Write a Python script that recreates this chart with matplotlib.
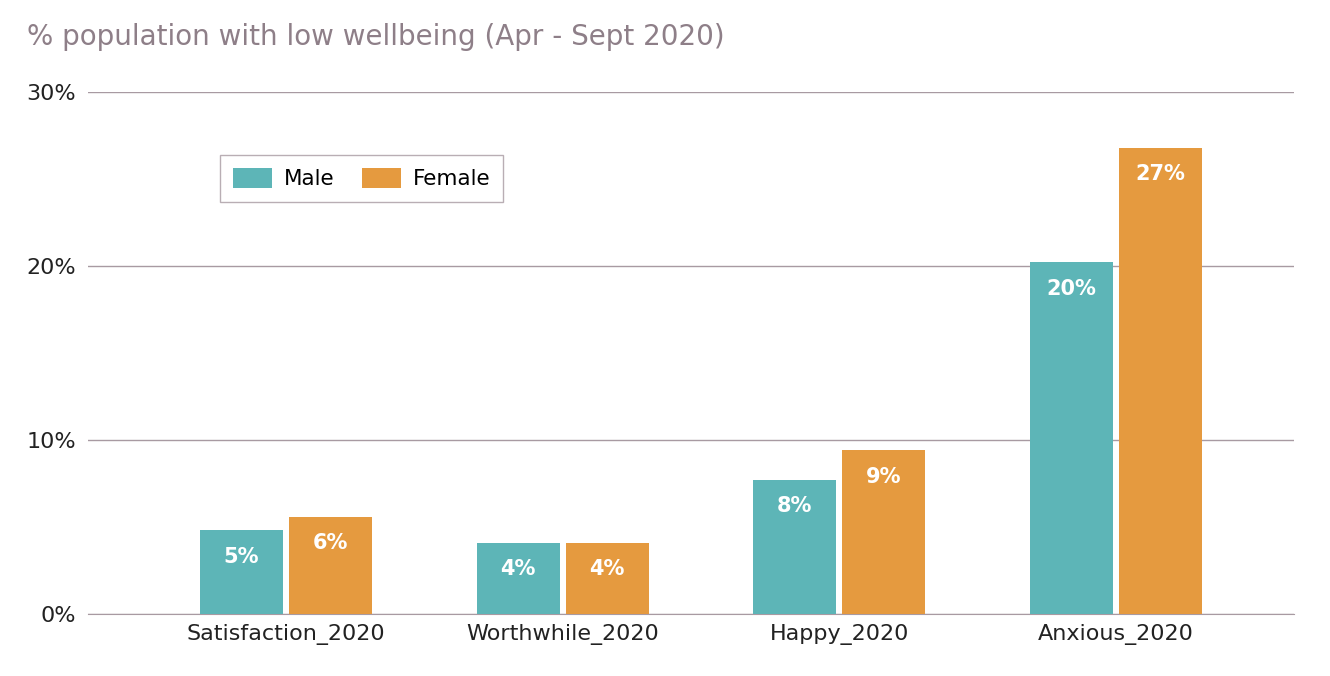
import matplotlib
matplotlib.use("Agg")
import matplotlib.pyplot as plt
import numpy as np

categories = ["Satisfaction_2020", "Worthwhile_2020", "Happy_2020", "Anxious_2020"]
male = [4.8, 4.1, 7.7, 20.2]
female = [5.6, 4.1, 9.4, 26.8]
male_labels = ["5%", "4%", "8%", "20%"]
female_labels = ["6%", "4%", "9%", "27%"]
yticks = [0, 10, 20, 30]
ytick_labels = ["0%", "10%", "20%", "30%"]

plt.rcParams['font.family'] = ['DejaVu Sans']

teal = "#5DB5B7"
orange = "#E59A3F"
grid_c = "#A89AA2"

fig = plt.figure(figsize=(13.3, 6.76), dpi=100)
ax = fig.add_axes([0.0662, 0.0917, 0.9068, 0.7723])

x = np.arange(len(categories))
w = 0.30
off = 0.161
b1 = ax.bar(x - off, male, w, color=teal, label="Male", zorder=3)
b2 = ax.bar(x + off, female, w, color=orange, label="Female", zorder=3)

for bars, labs in ((b1, male_labels), (b2, female_labels)):
    for r, t in zip(bars, labs):
        ax.annotate(t, (r.get_x() + r.get_width() / 2, r.get_height()),
                    xytext=(0, -19), textcoords="offset points", ha="center", va="center",
                    color="white", fontsize=15, fontweight="bold", zorder=4)

ax.set_xlim(-0.715, 3.643)
ax.set_ylim(0, 30)
ax.set_yticks(yticks)
ax.set_yticklabels(ytick_labels, fontsize=16, color="#222222")
ax.set_xticks(x)
ax.set_xticklabels(categories, fontsize=16, color="#222222")
ax.tick_params(axis="both", length=0)
ax.tick_params(axis="y", pad=8.5)
ax.tick_params(axis="x", pad=7)
ax.yaxis.grid(True, color=grid_c, linewidth=1)
ax.set_axisbelow(True)
for s in ("top", "right", "left"):
    ax.spines[s].set_visible(False)
ax.spines["bottom"].set_color(grid_c)

leg = ax.legend(loc="upper left", bbox_to_anchor=(0.1004, 0.9), ncol=2, fontsize=15.5,
                frameon=True, fancybox=False, edgecolor=grid_c, handlelength=1.8,
                handleheight=1.1, handletextpad=0.55, columnspacing=1.3, borderpad=0.6)
leg.get_frame().set_linewidth(1.0)

fig.text(0.0203, 0.945, "% population with low wellbeing (Apr - Sept 2020)", fontsize=20,
         color="#8E7F88", ha="left", va="center")

fig.savefig("out.png", dpi=100)
